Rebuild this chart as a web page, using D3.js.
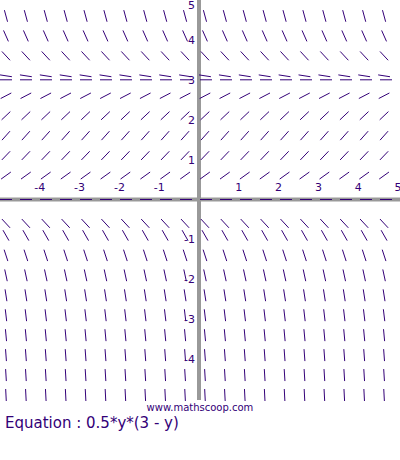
<!DOCTYPE html><html><head><script src="https://cdn.jsdelivr.net/npm/d3@7"></script>
<style>body{margin:0;background:#fff}</style></head><body><svg id="c" width="400" height="460"></svg>
<script>
const xTicks=[-4,-3,-2,-1,1,2,3,4,5];
const yTicks=[-4,-3,-2,-1,1,2,3,4,5];
const equilibria=[0,3];
const xSamples=[-4.85,-4.35,-3.85,-3.35,-2.85,-2.35,-1.85,-1.35,-0.85,-0.35,0.15,0.65,1.15,1.65,2.15,2.65,3.15,3.65,4.15,4.65];
const ySamples=[-4.9,-4.4,-3.9,-3.4,-2.9,-2.4,-1.9,-1.4,-0.9,-0.6,0.6,1.1,1.6,2.1,2.6,3.1,3.6,4.1,4.6];
const title="Equation : 0.5*y*(3 - y)";
const credit="www.mathscoop.com";
const f=(x,y)=>0.5*y*(3-y);
const col="#330077";
const svg=d3.select("#c");
const xs=d3.scaleLinear().domain([-5,5]).range([0,398]);
const ys=d3.scaleLinear().domain([-5,5]).range([399,0]);
const g=svg.append("g");
g.append("line").attr("x1",xs(0)).attr("x2",xs(0)).attr("y1",0).attr("y2",400).attr("stroke","#999").attr("stroke-width",4);
g.append("line").attr("x1",0).attr("x2",400).attr("y1",ys(0)).attr("y2",ys(0)).attr("stroke","#999").attr("stroke-width",4);
g.selectAll(".eq").data(equilibria).join("line").attr("x1",0).attr("x2",400)
 .attr("y1",d=>ys(d)).attr("y2",d=>ys(d)).attr("stroke",col).attr("stroke-width",1).attr("stroke-dasharray","12,8");
const pts=[];xSamples.forEach(x=>ySamples.forEach(y=>pts.push([x,y])));
const L=6;
g.selectAll(".s").data(pts).join("line").attr("stroke",col).attr("stroke-width",1)
 .each(function(d){const m=f(d[0],d[1]);const a=Math.atan(m);const cx=xs(d[0]),cy=ys(d[1]);
  d3.select(this).attr("x1",cx-L*Math.cos(a)).attr("x2",cx+L*Math.cos(a)).attr("y1",cy+L*Math.sin(a)).attr("y2",cy-L*Math.sin(a));});
g.selectAll(".xt").data(xTicks).join("text").attr("x",d=>xs(d)).attr("y",ys(0)-9).attr("text-anchor","middle")
 .attr("font-family","DejaVu Sans").attr("font-size",11).attr("fill",col).text(d=>d);
g.selectAll(".yt").data(yTicks).join("text").attr("x",xs(0)-4).attr("y",d=>ys(d)+(d===5?9:4)).attr("text-anchor","end")
 .attr("font-family","DejaVu Sans").attr("font-size",11).attr("fill",col).text(d=>d);
svg.append("text").attr("x",200).attr("y",411).attr("text-anchor","middle").attr("font-family","DejaVu Sans").attr("font-size",10).attr("fill",col).text(credit);
svg.append("text").attr("x",5).attr("y",428).attr("font-family","DejaVu Sans").attr("font-size",15).attr("fill",col).text(title);
</script></body></html>
